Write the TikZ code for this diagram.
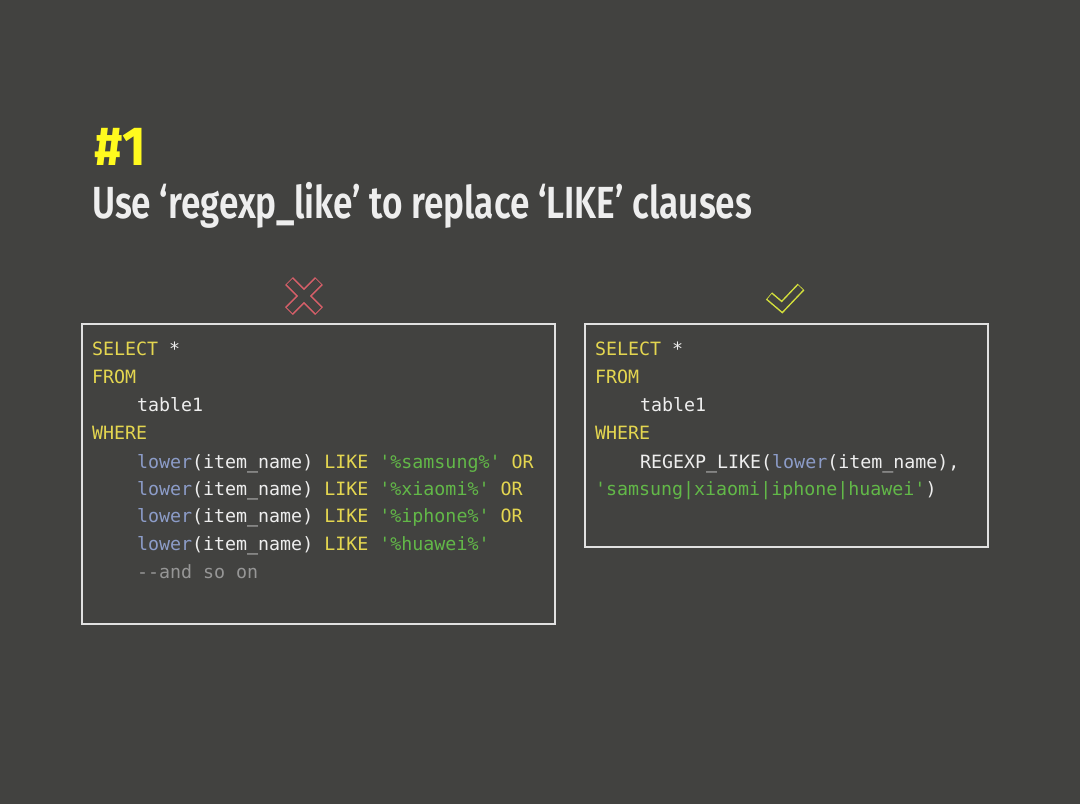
\documentclass[tikz,border=0pt]{standalone}
\usepackage{fontspec}
\usetikzlibrary{calc}
\setmainfont{Fira Sans}
\newfontfamily\titlefont{Fira Sans SemiBold}
\newfontfamily\hashfont{Fira Sans Bold}
\newfontfamily\codefont{DejaVu Sans Mono}
\definecolor{bg}{RGB}{66,66,64}
\definecolor{boxline}{RGB}{225,225,225}
\definecolor{kw}{RGB}{228,214,80}
\definecolor{str}{RGB}{98,184,72}
\definecolor{fn}{RGB}{140,156,200}
\definecolor{txt}{RGB}{238,238,238}
\definecolor{cmt}{RGB}{150,150,150}
\definecolor{hashy}{RGB}{255,250,30}
\definecolor{xred}{RGB}{215,95,105}
\definecolor{chk}{RGB}{212,224,60}
\tikzset{
  codebox/.style={draw=boxline, line width=1.5pt},
  codeline/.style={anchor=base west, inner sep=0pt, outer sep=0pt, text=txt,
    font=\codefont\fontsize{18.3}{22}\selectfont},
}
\newcommand{\K}[1]{\textcolor{kw}{#1}}
\newcommand{\Sg}[1]{\textcolor{str}{#1}}
\newcommand{\Fn}[1]{\textcolor{fn}{#1}}
\begin{document}
\begin{tikzpicture}[x=1pt,y=-1pt]
\fill[bg] (0,0) rectangle (1080,804);
\useasboundingbox (0,0) rectangle (1080,804);
% titles
\node[anchor=base west, inner sep=0pt, text=hashy, font=\hashfont\fontsize{55}{60}\selectfont] (hash) at (94,165) {\resizebox{52pt}{\height}{\#1}};
\node[anchor=base west, inner sep=0pt, text=txt, font=\titlefont\fontsize{45}{50}\selectfont] (title) at (92,218) {\resizebox{660pt}{\height}{Use ‘regexp\_like’ to replace ‘LIKE’ clauses}};
% boxes
\node[codebox, anchor=north west, minimum width=473pt, minimum height=300pt, inner sep=0pt] (left) at (81,323) {};
\node[codebox, anchor=north west, minimum width=403pt, minimum height=223pt, inner sep=0pt] (right) at (584,323) {};
% X icon
\coordinate (xc) at (304,296);
\draw[xred, line width=11pt] ($(xc)+(-15,-15)$) -- ($(xc)+(15,15)$) ($(xc)+(-15,15)$) -- ($(xc)+(15,-15)$);
\draw[bg, line width=8pt] ($(xc)+(-14.3,-14.3)$) -- ($(xc)+(14.3,14.3)$) ($(xc)+(-14.3,14.3)$) -- ($(xc)+(14.3,-14.3)$);
% check icon
\coordinate (ca) at (769,296);
\coordinate (cb) at (782,307);
\coordinate (cc) at (801,287);
\draw[chk, line width=9.5pt, line join=miter] (ca) -- (cb) -- (cc);
\draw[bg, line width=6.5pt, line join=miter, shorten <=0.8pt, shorten >=0.8pt] (ca) -- (cb) -- (cc);
% left code
\node[codeline] (l1) at (92,355) {\K{SELECT} *};
\node[codeline] (l2) at (92,383) {\K{FROM}};
\node[codeline] (l3) at (137,411) {table1};
\node[codeline] (l4) at (92,439) {\K{WHERE}};
\node[codeline] (l5) at (137,468) {\Fn{lower}(item\_name) \K{LIKE} \Sg{'\%samsung\%'} \K{OR}};
\node[codeline] (l6) at (137,495) {\Fn{lower}(item\_name) \K{LIKE} \Sg{'\%xiaomi\%'} \K{OR}};
\node[codeline] (l7) at (137,522) {\Fn{lower}(item\_name) \K{LIKE} \Sg{'\%iphone\%'} \K{OR}};
\node[codeline] (l8) at (137,550) {\Fn{lower}(item\_name) \K{LIKE} \Sg{'\%huawei\%'}};
\node[codeline, text=cmt] (l9) at (137,578) {--and so on};
% right code
\node[codeline] (r1) at (595,355) {\K{SELECT} *};
\node[codeline] (r2) at (595,383) {\K{FROM}};
\node[codeline] (r3) at (640,411) {table1};
\node[codeline] (r4) at (595,439) {\K{WHERE}};
\node[codeline] (r5) at (640,468) {REGEXP\_LIKE(\Fn{lower}(item\_name),};
\node[codeline] (r6) at (595,495) {\Sg{'samsung|xiaomi|iphone|huawei'})};
\end{tikzpicture}
\end{document}
